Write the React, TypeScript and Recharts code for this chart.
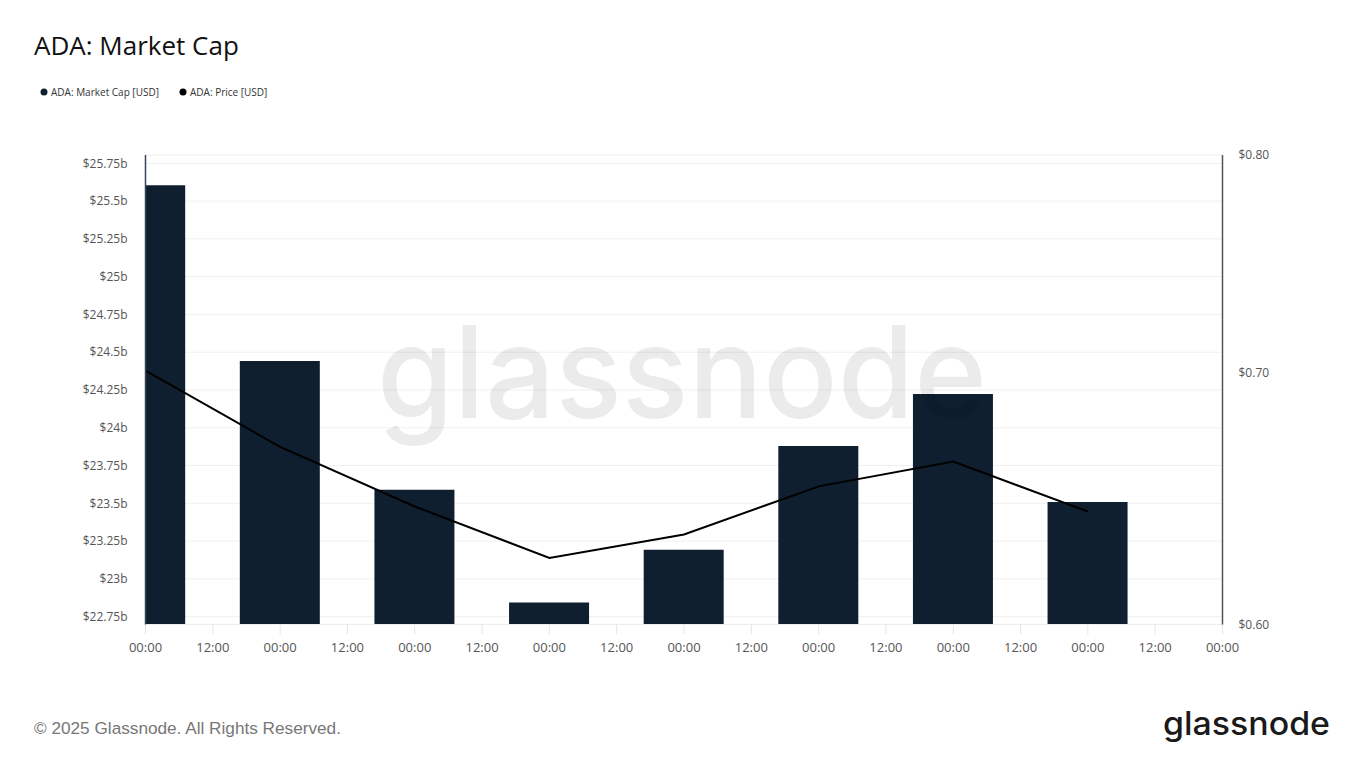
import React from 'react';
import { ComposedChart, Bar, Line, XAxis, YAxis, CartesianGrid } from 'recharts';

const days = [0, 1, 2, 3, 4, 5, 6, 7];
const marketCapB = [25.605, 24.441, 23.589, 22.843, 23.192, 23.88, 24.223, 23.509];
const priceUsd = [0.701, 0.669, 0.645, 0.625, 0.634, 0.653, 0.663, 0.643];
const xTicks = [0, 0.5, 1, 1.5, 2, 2.5, 3, 3.5, 4, 4.5, 5, 5.5, 6, 6.5, 7, 7.5, 8];
const leftTicks = [22.75, 23, 23.25, 23.5, 23.75, 24, 24.25, 24.5, 24.75, 25, 25.25, 25.5, 25.75];
const rightTicks = [0.6, 0.7, 0.8];
const seriesNames = ['ADA: Market Cap [USD]', 'ADA: Price [USD]'];

const data = days.map((d, i) => ({ day: d, cap: marketCapB[i], price: priceUsd[i] }));

const BAR = '#0f1f30';
const FONT = '"Open Sans", "Noto Sans", sans-serif';

export default function App() {
  return (
    <div style={{ position: 'absolute', left: 0, top: 0, width: 1366, height: 768, background: '#fff' }}>
      <ComposedChart
        width={1366}
        height={768}
        data={data}
        margin={{ top: 155, right: 63.5, left: 0, bottom: 103.5 }}
      >
        <CartesianGrid yAxisId="left" vertical={false} stroke="#f0f0f0" />
        <XAxis
          dataKey="day"
          type="number"
          domain={[0, 8]}
          ticks={xTicks}
          interval={0}
          allowDataOverflow
          height={40}
          tickFormatter={(v: number) => (v % 1 === 0 ? '00:00' : '12:00')}
          tickSize={10}
          tickMargin={8}
          tickLine={{ stroke: '#e6e6e6' }}
          axisLine={{ stroke: '#eeeeee' }}
          tick={{ fill: '#555', fontSize: 13, fontFamily: FONT }}
        />
        <YAxis
          yAxisId="left"
          orientation="left"
          width={145.5}
          domain={[22.698, 25.805]}
          ticks={leftTicks}
          interval={0}
          allowDataOverflow
          tickFormatter={(v: number) => `$${v}b`}
          tickSize={0}
          tickMargin={18}
          tickLine={false}
          axisLine={{ stroke: '#3a4656', strokeWidth: 1.5 }}
          tick={{ fill: '#555', fontSize: 12, fontFamily: FONT }}
        />
        <YAxis
          yAxisId="right"
          orientation="right"
          width={80}
          scale="log"
          domain={[0.6, 0.8]}
          ticks={rightTicks}
          interval={0}
          allowDataOverflow
          tickFormatter={(v: number) => `$${v.toFixed(2)}`}
          tickSize={0}
          tickMargin={16}
          tickLine={false}
          axisLine={{ stroke: '#555', strokeWidth: 1.5 }}
          tick={{ fill: '#555', fontSize: 12, fontFamily: FONT, textAnchor: 'start' }}
        />
        <Bar
          yAxisId="left"
          dataKey="cap"
          name={seriesNames[0]}
          fill={BAR}
          barSize={80}
          isAnimationActive={false}
        />
        <Line
          yAxisId="right"
          dataKey="price"
          name={seriesNames[1]}
          type="linear"
          stroke="#000"
          strokeWidth={2}
          dot={false}
          activeDot={false}
          isAnimationActive={false}
        />
      </ComposedChart>
      <svg
        width={1366}
        height={768}
        style={{ position: 'absolute', left: 0, top: 0, pointerEvents: 'none' }}
      >
        <text x={34} y={55} fontSize={26} fontFamily={FONT} fill="#111">
          ADA: Market Cap
        </text>
        <circle cx={44} cy={92} r={3.5} fill={BAR} />
        <text x={51} y={96} fontSize={10} fontFamily={FONT} fill="#333">
          {seriesNames[0]}
        </text>
        <circle cx={183} cy={92} r={3.5} fill="#000" />
        <text x={190} y={96} fontSize={10} fontFamily={FONT} fill="#333">
          {seriesNames[1]}
        </text>
        <text
          x={377}
          y={418}
          fontSize={128}
          fontWeight={500}
          fontFamily="Inter, Lato, sans-serif"
          fill="#000"
          fillOpacity={0.08}
          textLength={610}
          lengthAdjust="spacingAndGlyphs"
        >
          glassnode
        </text>
        <text x={34} y={734} fontSize={17.2} fontFamily='"Liberation Sans", Arial, sans-serif' fill="#777">
          © 2025 Glassnode. All Rights Reserved.
        </text>
        <text
          x={1163}
          y={735}
          fontSize={32}
          fontWeight={500}
          fontFamily="Inter, Lato, sans-serif"
          fill="#1a1a1a"
          textLength={167}
          lengthAdjust="spacingAndGlyphs"
        >
          glassnode
        </text>
      </svg>
    </div>
  );
}
